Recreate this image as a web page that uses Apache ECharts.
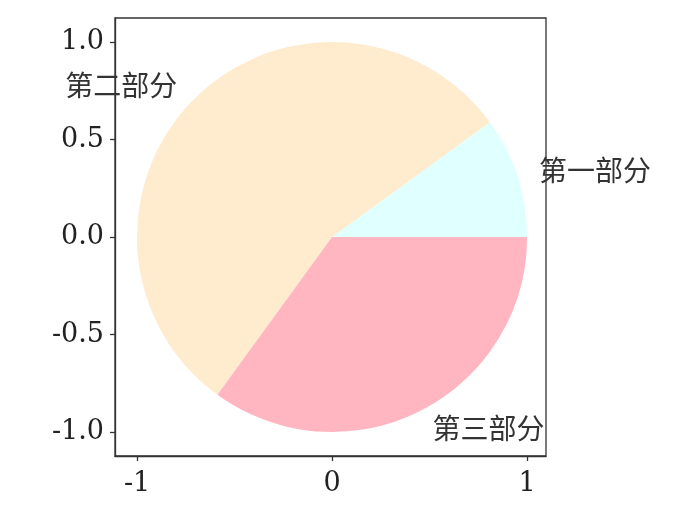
<!DOCTYPE html>
<html><head><meta charset="utf-8">
<script src="https://cdn.jsdelivr.net/npm/echarts@6/dist/echarts.min.js"></script>
<style>html,body{margin:0;padding:0;background:#fff}#c{width:678px;height:524px}</style>
</head><body><div id="c"></div>
<script>
const labels = ['第一部分', '第二部分', '第三部分'];
const values = [10, 55, 35];
const colors = ['#E0FFFF', '#FFEBCD', '#FFB6C1'];
const xTicks = [-1, 0, 1];
const yTicks = [-1, -0.5, 0, 0.5, 1];
const xRange = [-1.113, 1.097];
const yRange = [-1.123, 1.123];

const chart = echarts.init(document.getElementById('c'));
const numFont = { fontFamily: 'DejaVu Serif', fontSize: 27, color: '#222' };
const base = {
  animation: false,
  backgroundColor: '#fff',
  grid: { left: 115, right: 132, top: 18, bottom: 68, show: true, borderColor: '#333', borderWidth: 1.3, backgroundColor: 'transparent' },
  xAxis: {
    type: 'value', min: xRange[0], max: xRange[1],
    splitLine: { show: false },
    axisLine: { show: true, onZero: false, lineStyle: { color: '#333', width: 1.3 } },
    axisTick: { show: true, length: 5, customValues: xTicks, lineStyle: { color: '#333', width: 1.3 } },
    axisLabel: { customValues: xTicks, margin: 14, formatter: v => String(Math.round(v)), ...numFont }
  },
  yAxis: {
    type: 'value', min: yRange[0], max: yRange[1],
    splitLine: { show: false },
    axisLine: { show: true, onZero: false, lineStyle: { color: '#333', width: 1.3 } },
    axisTick: { show: true, length: 5, customValues: yTicks, lineStyle: { color: '#333', width: 1.3 } },
    axisLabel: { customValues: yTicks, margin: 11, formatter: v => Number(v).toFixed(1), ...numFont }
  },
  series: [{ type: 'scatter', data: [] }]
};
chart.setOption(base);
const c0 = chart.convertToPixel({ gridIndex: 0 }, [0, 0]);
const c1 = chart.convertToPixel({ gridIndex: 0 }, [1, 0]);
const R = Math.abs(c1[0] - c0[0]);
chart.setOption({
  series: [{ type: 'scatter', data: [] }, {
    type: 'pie',
    center: [c0[0], c0[1]],
    radius: [0, R],
    startAngle: 0,
    clockwise: false,
    avoidLabelOverlap: false,
    z: 1,
    itemStyle: { borderWidth: 0 },
    emphasis: { disabled: true },
    label: {
      show: true, position: 'outside', distanceToLabelLine: 3,
      fontFamily: 'Noto Sans CJK SC', fontSize: 28, color: '#333',
      padding: [7, 0, 0, 0],
      formatter: '{b}'
    },
    labelLine: { show: false, length: R * 0.1, length2: 0 },
    data: labels.map((n, i) => ({ name: n, value: values[i], itemStyle: { color: colors[i] } }))
  }]
});
</script></body></html>
